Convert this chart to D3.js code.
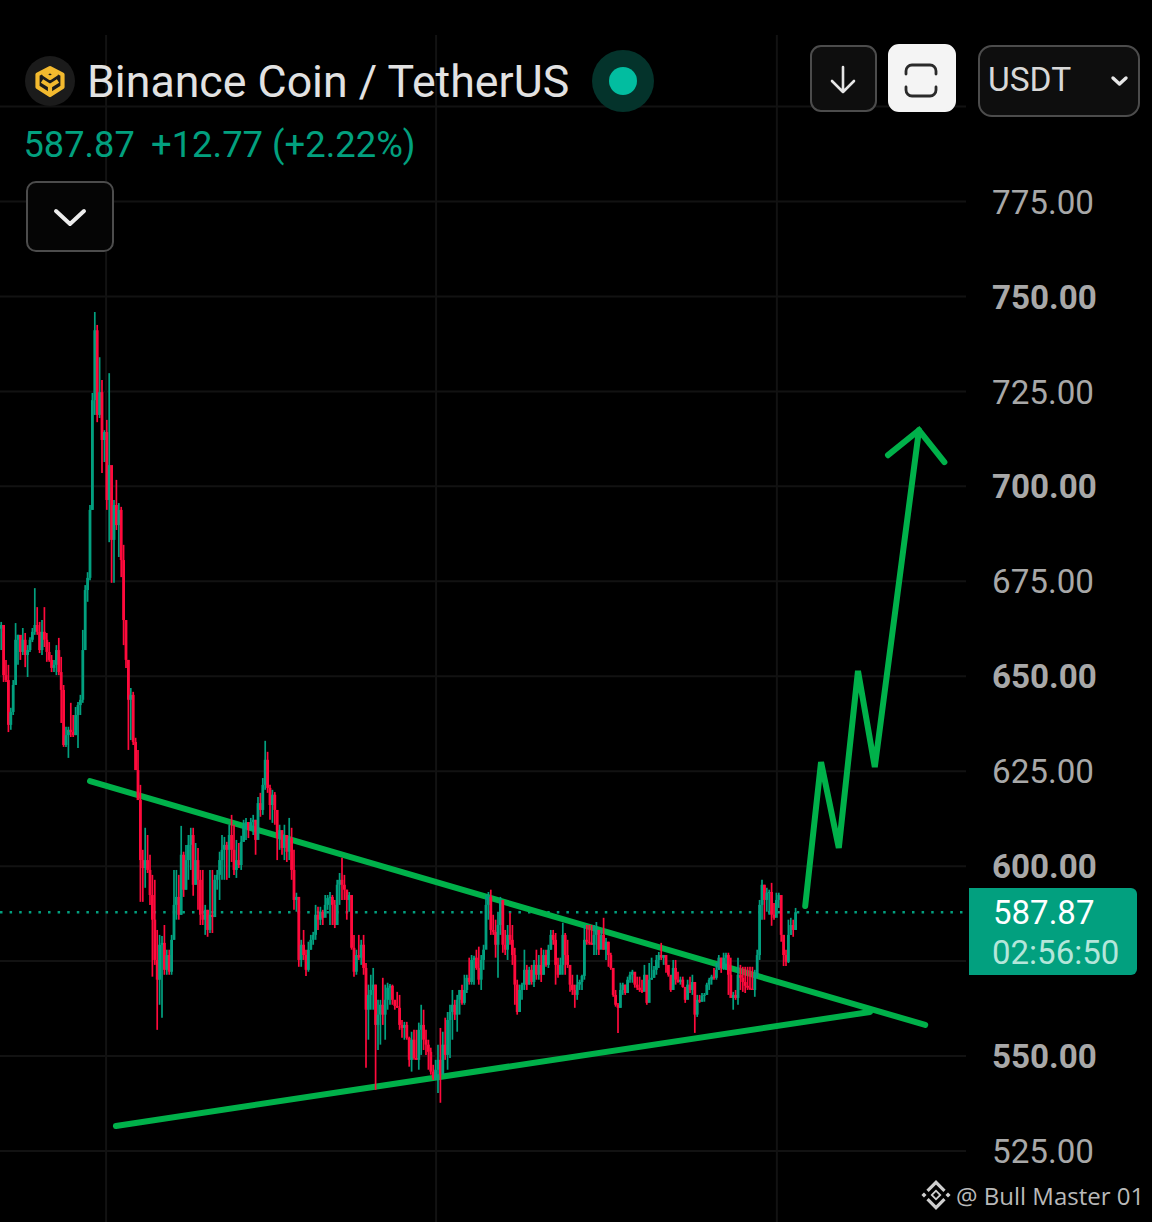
<!DOCTYPE html>
<html>
<head>
<meta charset="utf-8">
<script src="https://d3js.org/d3.v7.min.js"></script>
<style>
  html, body { margin: 0; padding: 0; background: #000; }
  svg { display: block; }
  text { font-family: Roboto, sans-serif; }
</style>
</head>
<body>
<svg id="chart" width="1152" height="1222"></svg>
<script>
// candles, open of a candle is the close before it
const closes = [
  663.5,650.3,649.0,637.2,640.6,647.7,659.6,660.9,656.4,659.6,
  655.6,656.9,659.6,661.7,663.5,661.7,656.9,661.7,659.6,656.4,
  654.3,652.2,653.0,656.9,651.1,646.4,631.9,634.5,635.9,635.3,
  634.5,639.8,642.4,643.8,656.9,672.7,675.9,693.8,722.7,741.1,
  718.8,724.8,712.2,714.3,696.4,705.6,685.9,695.1,689.8,693.8,
  680.6,664.8,654.3,643.8,645.1,632.7,625.3,617.4,601.6,599.5,
  601.6,599.0,592.4,585.9,575.3,570.1,579.3,579.8,572.7,576.6,
  572.2,580.6,589.8,591.9,587.2,603.0,593.8,601.6,605.6,608.2,
  595.1,601.6,596.4,587.2,585.9,588.5,583.2,587.2,586.6,596.4,
  597.7,601.6,604.3,605.6,604.3,608.2,604.3,599.0,601.6,600.3,
  606.4,610.6,611.6,609.5,611.6,612.2,606.9,616.6,614.8,621.4,
  628.0,620.6,616.1,618.8,614.8,607.4,609.5,604.8,608.2,603.8,
  607.4,599.0,591.1,591.9,575.3,579.3,576.6,572.7,578.0,580.6,
  581.9,587.2,585.9,588.0,586.4,589.8,591.6,591.9,589.8,584.5,
  595.1,596.4,595.1,593.8,591.1,592.4,578.5,572.2,576.6,575.9,
  579.3,573.2,562.2,566.1,567.4,568.8,558.2,560.9,563.5,560.9,
  564.8,568.0,568.5,564.8,563.2,562.7,558.2,557.4,558.2,554.8,
  549.0,554.3,549.5,549.0,556.9,558.2,554.3,553.0,551.1,545.9,
  544.3,546.4,549.0,545.1,553.0,550.3,559.5,561.6,563.5,560.9,
  564.8,567.4,564.0,567.4,570.6,569.5,575.3,575.9,573.2,570.1,
  575.3,578.0,589.8,591.9,583.2,582.7,579.3,584.5,591.1,579.3,
  578.0,581.9,580.6,576.6,568.8,561.6,567.4,568.8,572.7,568.8,
  572.7,569.5,574.0,571.4,574.0,571.4,576.6,574.0,578.0,581.9,
  580.6,574.0,571.4,574.0,581.9,576.6,574.0,568.8,567.4,566.1,
  568.8,569.5,571.1,580.6,580.1,579.8,579.3,581.9,583.2,578.0,
  581.9,578.0,580.1,576.6,573.2,566.1,563.5,562.7,567.4,568.8,
  566.6,570.1,571.4,572.2,568.8,568.0,567.4,566.9,571.4,564.0,
  570.1,570.6,572.7,575.3,576.6,575.9,576.6,574.0,571.4,567.4,
  573.2,570.1,569.5,570.1,568.2,564.8,568.8,567.4,569.5,560.9,
  564.8,564.3,565.9,566.1,568.8,570.1,570.9,570.6,572.7,575.9,
  573.2,575.9,576.6,571.4,565.3,566.1,565.3,571.4,570.6,569.5,
  568.5,568.0,567.7,567.4,571.4,576.6,589.8,595.1,591.1,593.0,
  593.2,587.2,586.4,591.1,592.4,581.9,576.6,574.8,581.9,584.5,
  583.2,587.87
];
const highs = [
  664.3,661.7,654.3,653.0,641.7,649.0,664.0,660.9,658.2,662.7,
  661.4,658.2,660.3,662.7,673.2,668.2,664.3,664.8,668.2,661.4,
  659.0,655.6,654.3,658.2,660.1,655.1,647.7,636.7,636.7,643.0,
  639.8,641.9,643.2,645.1,662.2,674.0,677.4,695.1,724.6,745.9,
  742.5,734.0,728.0,714.8,717.5,729.8,698.5,696.4,701.7,695.6,
  694.6,684.6,664.8,654.3,646.9,645.9,633.8,630.6,621.4,604.3,
  610.1,608.2,603.0,597.7,596.4,583.2,581.9,581.6,584.5,578.0,
  578.0,581.9,599.0,599.0,597.7,610.6,603.8,605.6,608.2,610.1,
  610.1,606.1,604.8,599.0,599.0,589.8,588.5,599.0,599.0,597.7,
  599.0,603.8,608.2,607.7,606.4,610.9,613.5,610.9,606.9,606.1,
  608.0,612.2,612.7,611.6,612.7,613.5,612.2,618.2,619.3,623.2,
  633.0,630.1,621.4,620.1,619.5,612.2,610.9,609.0,610.9,607.7,
  612.7,610.1,604.3,593.0,591.9,580.6,583.2,578.0,580.1,581.9,
  582.7,589.8,589.3,589.3,588.5,592.4,592.4,593.2,592.4,591.1,
  596.4,598.2,602.2,597.7,593.8,593.2,592.4,581.9,578.0,581.9,
  580.6,581.9,574.5,568.8,571.4,573.2,568.8,564.8,564.8,570.6,
  568.8,569.3,569.0,568.8,564.8,566.9,566.1,559.5,559.0,559.0,
  555.1,556.4,556.9,556.9,558.8,563.5,562.2,556.9,554.3,552.2,
  547.7,549.0,553.0,557.4,556.4,560.1,561.6,563.5,567.4,564.8,
  566.1,567.4,568.8,571.4,571.4,575.9,576.6,576.4,578.0,578.8,
  576.6,579.3,592.4,593.2,593.8,587.2,585.9,588.0,591.9,584.5,
  583.2,584.5,587.7,584.5,578.5,570.1,568.8,569.3,578.0,574.0,
  573.5,574.0,575.3,578.0,576.6,578.5,578.0,578.0,579.3,583.2,
  583.2,582.4,575.9,575.9,585.1,582.4,580.6,574.0,571.4,568.8,
  571.4,570.1,571.4,584.5,584.5,584.5,584.5,584.5,585.3,583.2,
  583.2,586.4,581.1,580.1,577.2,572.7,567.4,564.0,569.3,569.3,
  568.8,570.9,572.2,572.7,571.4,570.9,570.9,570.1,574.0,570.9,
  574.5,575.9,573.7,576.6,577.4,579.8,576.6,575.9,572.7,570.9,
  575.3,575.3,572.2,570.9,570.9,568.2,570.1,570.9,571.4,566.9,
  566.1,566.1,566.6,566.6,569.3,570.6,571.4,573.2,574.5,576.6,
  575.9,577.2,577.2,577.2,575.9,566.9,567.4,575.9,574.0,573.5,
  573.5,573.5,573.5,573.5,572.7,578.0,591.1,596.4,595.1,594.3,
  593.8,595.6,590.3,593.0,593.0,592.4,581.9,578.0,585.9,586.4,
  585.9,589.0
];
const lows = [
  656.9,648.5,648.5,635.3,635.9,639.8,652.2,653.0,654.3,655.6,
  652.4,649.8,656.4,659.0,660.9,660.9,656.1,655.6,657.7,653.8,
  653.8,651.1,651.1,650.3,650.3,637.7,631.4,631.4,628.5,634.0,
  634.0,634.5,631.1,639.8,643.0,656.9,669.6,675.3,693.8,718.8,
  716.9,718.0,703.5,706.4,693.8,685.3,674.6,674.6,688.5,681.4,
  676.1,658.2,652.2,630.6,633.2,631.9,625.3,617.4,590.6,590.6,
  594.3,598.2,589.8,570.9,574.0,556.9,563.5,560.1,571.4,571.4,
  571.4,571.4,580.6,585.9,585.9,587.2,591.9,593.8,596.4,599.0,
  592.2,595.1,588.5,584.5,584.5,581.9,581.4,582.4,582.4,586.6,
  593.8,591.1,596.4,596.4,596.4,596.9,601.1,597.7,596.9,599.5,
  599.0,606.4,606.9,607.4,609.5,608.2,603.0,612.2,613.0,613.5,
  620.1,619.3,612.2,611.4,610.9,601.6,604.3,603.0,601.6,601.1,
  601.6,596.4,588.5,588.0,573.5,573.5,575.3,571.1,572.2,578.0,
  579.3,580.6,583.2,584.5,584.5,587.2,588.5,584.5,584.5,583.7,
  587.2,589.8,591.1,591.1,585.9,588.0,578.0,570.9,571.4,575.3,
  574.0,571.4,546.9,554.3,562.2,562.2,541.1,551.6,553.0,558.2,
  554.3,562.2,563.5,563.5,562.2,562.7,556.9,554.8,554.3,554.3,
  547.2,545.9,549.0,549.0,546.4,550.3,551.6,550.3,546.4,545.1,
  543.7,543.7,540.3,537.7,546.9,549.0,546.4,549.5,554.3,559.5,
  556.4,560.9,563.5,563.5,566.6,568.8,568.8,568.8,572.7,568.8,
  567.4,572.7,579.3,585.9,581.9,581.9,575.9,570.6,581.9,577.2,
  576.6,575.3,579.3,574.0,563.5,560.9,561.6,564.8,567.4,567.4,
  568.8,568.8,568.2,570.1,570.1,569.5,571.4,573.5,573.2,578.0,
  579.3,568.8,570.6,572.7,571.4,571.4,573.2,566.9,566.1,562.7,
  564.8,567.4,567.4,570.1,579.3,579.3,579.3,576.6,576.6,576.6,
  579.3,578.0,575.3,573.5,572.7,565.6,563.0,556.1,562.7,566.1,
  566.1,568.2,569.3,569.3,568.0,567.4,566.9,566.6,567.4,563.5,
  564.8,570.1,570.6,571.4,573.2,575.3,574.0,571.9,570.9,566.9,
  568.8,568.8,569.3,568.8,568.0,564.0,565.3,566.6,566.1,556.1,
  560.3,564.0,564.3,564.3,566.1,567.4,568.8,570.1,570.1,572.7,
  571.9,572.7,572.7,566.1,566.6,562.2,564.8,563.5,567.4,566.9,
  566.6,567.4,567.4,567.4,565.6,570.6,575.3,585.9,585.9,588.0,
  587.2,584.3,585.9,587.7,589.0,580.1,573.7,573.7,574.5,581.9,
  581.4,583.2
];

const priceTicks = [775, 750, 725, 700, 675, 650, 625, 600, 575, 550, 525];
const hiddenTicks = [575]; // covered by the price tag
const boldTicks = [750, 700, 650, 600, 550];
const timeGrid = [43.7, 181.2, 323.2]; // candle index of the vertical grid lines
const lastPrice = 587.87;

// hand drawn lines, [candle index, price]
const upperTrend = [[37, 622.4], [385, 558.2]];
const lowerTrend = [[47.8, 531.6], [362, 561.6]];
const arrowPath = [[335, 589.5], [341.6, 627.4], [349, 604.8], [357, 651.4], [364, 626.1], [382.4, 714.8]];
const arrowHead = [[369.5, 708.2], [382.4, 714.8], [393, 706.4]];

const GREEN = "#02a07f", RED = "#ff0a3c", LINE = "#00b14a";

const svg = d3.select("#chart");
const xScale = d3.scaleLinear().domain([-0.5, 331.5]).range([0, 796.8]);
const yScale = d3.scaleLinear().domain([775, 525]).range([201.5, 1151]);

// grid
const grid = svg.append("g").attr("stroke", "#121212").attr("stroke-width", 2);
grid.selectAll("line.h")
  .data(priceTicks.concat([800]))
  .join("line")
    .attr("class", "h")
    .attr("x1", 0).attr("x2", 966)
    .attr("y1", d => yScale(d)).attr("y2", d => yScale(d));
grid.selectAll("line.v")
  .data(timeGrid)
  .join("line")
    .attr("class", "v")
    .attr("x1", d => xScale(d)).attr("x2", d => xScale(d))
    .attr("y1", 35).attr("y2", 1222);

// last price line
svg.append("line")
  .attr("x1", 0).attr("x2", 966)
  .attr("y1", yScale(lastPrice)).attr("y2", yScale(lastPrice))
  .attr("stroke", GREEN).attr("stroke-width", 2.5)
  .attr("stroke-dasharray", "2.5 7.1");

// the drawn lines sit under the candles
const drawn = d3.line().x(d => xScale(d[0])).y(d => yScale(d[1]));
[upperTrend, lowerTrend].forEach(pts => {
  svg.append("path").attr("d", drawn(pts))
    .attr("fill", "none").attr("stroke", LINE)
    .attr("stroke-width", 6).attr("stroke-linecap", "round");
});

// candles
const candles = closes.map((c, i) => ({
  i: i,
  open: i ? closes[i - 1] : c - 1,
  close: c,
  high: highs[i],
  low: lows[i]
}));
const color = d => d.close >= d.open ? GREEN : RED;

svg.append("g").selectAll("line")
  .data(candles)
  .join("line")
    .attr("x1", d => xScale(d.i)).attr("x2", d => xScale(d.i))
    .attr("y1", d => yScale(d.high)).attr("y2", d => yScale(d.low))
    .attr("stroke", color).attr("stroke-width", 1.7);

svg.append("g").selectAll("rect")
  .data(candles)
  .join("rect")
    .attr("x", d => xScale(d.i) - 1.4)
    .attr("width", 2.8)
    .attr("y", d => yScale(Math.max(d.open, d.close)))
    .attr("height", d => Math.max(1, Math.abs(yScale(d.open) - yScale(d.close))))
    .attr("fill", color);

// arrow on top
[arrowPath, arrowHead].forEach(pts => {
  svg.append("path").attr("d", drawn(pts))
    .attr("fill", "none").attr("stroke", LINE)
    .attr("stroke-width", 6)
    .attr("stroke-linecap", "round").attr("stroke-linejoin", "miter");
});

// price axis
const yAxis = d3.axisRight(yScale)
  .tickValues(priceTicks.filter(d => !hiddenTicks.includes(d)))
  .tickSize(0)
  .tickPadding(0)
  .tickFormat(d3.format(".2f"));
const axisG = svg.append("g").attr("transform", "translate(992,1)").call(yAxis);
axisG.select(".domain").remove();
axisG.selectAll("text")
  .attr("fill", "#a8a8a8")
  .style("font-size", "33.2px")
  .style("font-family", "Roboto, sans-serif")
  .style("font-weight", d => boldTicks.includes(d) ? 700 : 400);

// price tag
svg.append("path")
  .attr("d", "M969,888H1131a6,6 0 0 1 6,6V969a6,6 0 0 1 -6,6H969Z")
  .attr("fill", GREEN);
svg.append("text").attr("x", 993).attr("y", 924)
  .attr("fill", "#fff").style("font-size", "33px").text(lastPrice.toFixed(2));
svg.append("text").attr("x", 992).attr("y", 964)
  .attr("fill", "#b4e6da").style("font-size", "33px").text("02:56:50");

// header
svg.append("circle").attr("cx", 50).attr("cy", 81).attr("r", 25).attr("fill", "#1b1b1b");
const logo = svg.append("g").attr("transform", "translate(50,81)")
  .attr("fill", "none").attr("stroke", "#f3ba2f").attr("stroke-width", 4.2).attr("stroke-linejoin", "round");
logo.append("path").attr("d", "M0,-13L12.5,-6.5V6L0,14L-12.5,6V-6.5Z");
logo.append("path").attr("d", "M-6,-7L0,-10L6,-7L0,-3ZM-8,0L0,5L8,0M0,5V12");

svg.append("text").attr("x", 87).attr("y", 96.5)
  .attr("fill", "#e2e2e2").style("font-size", "44.7px").text("Binance Coin / TetherUS");

svg.append("circle").attr("cx", 623).attr("cy", 81).attr("r", 31).attr("fill", "#04332b");
svg.append("circle").attr("cx", 623).attr("cy", 81).attr("r", 14).attr("fill", "#02bda0");

svg.append("text").attr("x", 23.5).attr("y", 157)
  .attr("fill", GREEN).style("font-size", "36.2px")
  .text("587.87");
svg.append("text").attr("x", 151).attr("y", 157)
  .attr("fill", GREEN).style("font-size", "36.4px")
  .text("+12.77 (+2.22%)");

// buttons
function button(x, y, w, h, r, fill, stroke) {
  svg.append("rect").attr("x", x).attr("y", y).attr("width", w).attr("height", h)
    .attr("rx", r).attr("fill", fill).attr("stroke", stroke).attr("stroke-width", 2);
}
function icon(d, col, sw) {
  svg.append("path").attr("d", d).attr("fill", "none").attr("stroke", col)
    .attr("stroke-width", sw).attr("stroke-linecap", "round").attr("stroke-linejoin", "round");
}

button(27, 182, 86, 69, 9, "#050505", "#4c4c4c");
icon("M56,211L70,224L84,211", "#ececec", 4);

button(811, 46, 65, 65, 10, "#0e0e0e", "#4c4c4c");
icon("M843,67V92M832,81L843,92L854,81", "#e6e6e6", 2.6);

button(889, 45, 66, 66, 10, "#f4f4f4", "#f4f4f4");
icon("M906,74V71a6,6 0 0 1 6,-6H930a6,6 0 0 1 6,6V74M906,87V90a6,6 0 0 0 6,6H930a6,6 0 0 0 6,-6V87", "#2a2a2a", 2.8);

button(979, 46, 160, 70, 13, "#0e0e0e", "#4c4c4c");
svg.append("text").attr("x", 988).attr("y", 91)
  .attr("fill", "#d8d8d8").style("font-size", "33.5px").text("USDT");
icon("M1113,78L1119.5,84L1126,78", "#e6e6e6", 3.4);

// watermark, binance square mark
const mark = svg.append("g").attr("transform", "translate(936,1195) rotate(45)");
mark.append("path")
  .attr("d", "M-9,3V-9H3M-3,9H9V-3")
  .attr("fill", "none").attr("stroke", "#cfcfcf").attr("stroke-width", 3.2);
mark.append("rect").attr("x", -3).attr("y", -3).attr("width", 6).attr("height", 6)
  .attr("fill", "none").attr("stroke", "#cfcfcf").attr("stroke-width", 1.8);
[[-8.5, 8.5], [8.5, -8.5]].forEach(p => {
  mark.append("rect").attr("x", p[0] - 1.8).attr("y", p[1] - 1.8)
    .attr("width", 3.6).attr("height", 3.6).attr("fill", "#cfcfcf");
});
svg.append("text").attr("x", 956).attr("y", 1205)
  .attr("fill", "#b9b9b9")
  .style("font-family", "'Open Sans', sans-serif")
  .style("font-size", "24px")
  .text("@ Bull Master 01");
</script>
</body>
</html>
